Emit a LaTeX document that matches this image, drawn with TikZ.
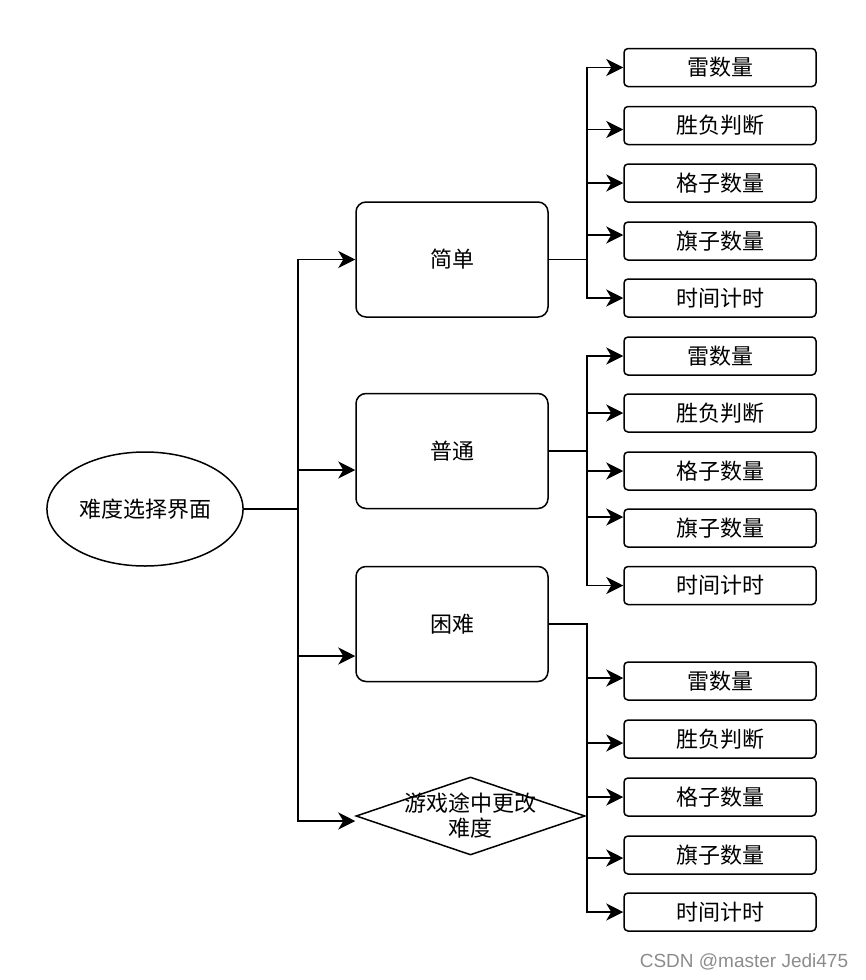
\documentclass[tikz,border=0pt]{standalone}
\usepackage{fontspec}
\setmainfont{Noto Sans CJK SC}
\newfontfamily\wmfont{Liberation Sans}
\usetikzlibrary{positioning}
\usetikzlibrary{shapes.geometric}
\usetikzlibrary{arrows.meta}

\begin{document}
\begin{tikzpicture}[x=1pt, y=-1pt,
	font=\fontsize{22}{25}\selectfont,
	rootnode/.style={ellipse, draw=black, line width=1.5pt, minimum width=194pt, minimum height=114pt},
	bigbox/.style={rectangle, rounded corners=10pt, draw=black, line width=1.5pt, minimum width=192pt, minimum height=115pt},
	choicenode/.style={diamond, draw=black, line width=1.5pt, minimum width=229pt, minimum height=78pt, inner sep=0pt},
	smallbox/.style={rectangle, rounded corners=4pt, draw=black, line width=1.5pt, minimum width=192pt, minimum height=38pt},
	link/.style={line width=1.5pt},
	arr/.style={line width=1.5pt, -{Stealth[length=17pt, width=17pt, inset=5pt]}},
	]
	\useasboundingbox (0,0) rectangle (865,980);
	%Nodes
	\node[rootnode]   (root)   at (145,509)   {难度选择界面};
	\node[bigbox]     (easy)   at (452,259.5) {简单};
	\node[bigbox]     (normal) at (452,451)   {普通};
	\node[bigbox]     (hard)   at (452,624)   {困难};
	\node[choicenode] (change) at (470.5,816) {};
	\node[align=center] (changetext) at (change.center) {游戏途中更改\\难度};
	\coordinate (split) at (298,509);

	\node[smallbox] (e1) at (720,67.5)  {雷数量};
	\node[smallbox] (e2) at (720,125.5) {胜负判断};
	\node[smallbox] (e3) at (720,183)   {格子数量};
	\node[smallbox] (e4) at (720,241)   {旗子数量};
	\node[smallbox] (e5) at (720,298)   {时间计时};

	\node[smallbox] (m1) at (720,356)   {雷数量};
	\node[smallbox] (m2) at (720,413)   {胜负判断};
	\node[smallbox] (m3) at (720,471)   {格子数量};
	\node[smallbox] (m4) at (720,528)   {旗子数量};
	\node[smallbox] (m5) at (720,585.5) {时间计时};

	\node[smallbox] (h1) at (720,681)   {雷数量};
	\node[smallbox] (h2) at (720,739)   {胜负判断};
	\node[smallbox] (h3) at (720,797)   {格子数量};
	\node[smallbox] (h4) at (720,855)   {旗子数量};
	\node[smallbox] (h5) at (720,912)   {时间计时};

	\node[text=black!45, font=\wmfont\fontsize{19}{19}\selectfont] (wm) at (744,962) {CSDN @master Jedi475};

	%Lines
	\draw[link] (root) -- (split);
	\draw[arr] (split) |- (easy.west);
	\draw[arr] (split) |- ([yshift=-19pt]normal.west);
	\draw[arr] (split) |- ([yshift=-32pt]hard.west);
	\draw[arr] (split) |- ([yshift=-5pt]change.west);

	\draw[arr] (easy.east) -- ++(38,0) |- (e1.west);
	\draw[arr] (easy.east) -- ++(38,0) |- ([yshift=-4pt]e2.west);
	\draw[arr] (easy.east) -- ++(38,0) |- (e3.west);
	\draw[arr] (easy.east) -- ++(38,0) |- ([yshift=6pt]e4.west);
	\draw[arr] (easy.east) -- ++(38,0) |- (e5.west);

	\draw[arr] (normal.east) -- ++(38,0) |- (m1.west);
	\draw[arr] (normal.east) -- ++(38,0) |- (m2.west);
	\draw[arr] (normal.east) -- ++(38,0) |- (m3.west);
	\draw[arr] (normal.east) -- ++(38,0) |- ([yshift=11pt]m4.west);
	\draw[arr] (normal.east) -- ++(38,0) |- (m5.west);

	\draw[arr] (hard.east) -- ++(38,0) |- ([yshift=3pt]h1.west);
	\draw[arr] (hard.east) -- ++(38,0) |- ([yshift=-4pt]h2.west);
	\draw[arr] (hard.east) -- ++(38,0) |- (h3.west);
	\draw[arr] (hard.east) -- ++(38,0) |- ([yshift=-3pt]h4.west);
	\draw[arr] (hard.east) -- ++(38,0) |- (h5.west);
\end{tikzpicture}
\end{document}
